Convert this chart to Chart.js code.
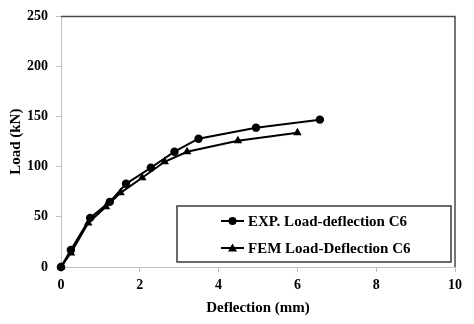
<!DOCTYPE html>
<html>
<head>
<meta charset="utf-8">
<script src="https://cdn.jsdelivr.net/npm/chart.js@4/dist/chart.umd.min.js"></script>
<style>
  html, body { margin: 0; padding: 0; background: #fff; }
  #wrap { width: 474px; height: 324px; }
</style>
</head>
<body>
<div id="wrap"><canvas id="c" width="474" height="324"></canvas></div>
<script>
/* ── Data ── */
const expDeflection = [0, 0.25, 0.74, 1.24, 1.65, 2.28, 2.88, 3.49, 4.95, 6.57];
const expLoad       = [0, 17, 49, 65, 83, 99, 115, 128, 139, 147];
const femDeflection = [0, 0.25, 0.69, 1.14, 1.51, 2.06, 2.63, 3.20, 4.49, 6.00];
const femLoad       = [0, 14, 44, 60, 74, 89, 105, 115, 126, 134];

const seriesLabels = ['EXP. Load-deflection C6', 'FEM Load-Deflection C6'];
const xTicks = [0, 2, 4, 6, 8, 10];
const yTicks = [0, 50, 100, 150, 200, 250];

const toPoints = (xs, ys) => xs.map((x, i) => ({ x, y: ys[i] }));

const SERIF = '"Liberation Serif", "Times New Roman", serif';
const tickFont = { family: SERIF, size: 14, weight: 'bold' };

/* ── Top/right frame + boxed legend inside the plot ── */
const frameAndLegend = {
    id: 'frameAndLegend',
    afterDraw(chart) {
        const { ctx, chartArea: a } = chart;
        ctx.save();
        // dark top and right border
        ctx.strokeStyle = '#4a4a4a';
        ctx.lineWidth = 1.5;
        ctx.beginPath();
        ctx.moveTo(a.left, a.top);
        ctx.lineTo(a.right, a.top);
        ctx.lineTo(a.right, a.bottom);
        ctx.stroke();

        // legend box
        const box = { x: 177, y: 206, w: 274, h: 56 };
        ctx.fillStyle = '#fff';
        ctx.fillRect(box.x, box.y, box.w, box.h);
        ctx.strokeStyle = '#3a3a3a';
        ctx.lineWidth = 1.5;
        ctx.strokeRect(box.x, box.y, box.w, box.h);

        ctx.font = 'bold 15px ' + SERIF;
        ctx.textBaseline = 'middle';
        chart.data.datasets.forEach((ds, i) => {
            const cy = 221 + i * 27;
            ctx.strokeStyle = '#000';
            ctx.lineWidth = 2;
            ctx.beginPath();
            ctx.moveTo(221, cy);
            ctx.lineTo(244, cy);
            ctx.stroke();
            ctx.fillStyle = '#000';
            ctx.beginPath();
            if (ds.pointStyle === 'triangle') {
                ctx.moveTo(232.5, cy - 4.5);
                ctx.lineTo(237, cy + 3.5);
                ctx.lineTo(228, cy + 3.5);
                ctx.closePath();
            } else {
                ctx.arc(232.5, cy, 4, 0, Math.PI * 2);
            }
            ctx.fill();
            ctx.fillText(ds.label, 248, cy + 1);
        });
        ctx.restore();
    }
};

new Chart(document.getElementById('c'), {
    type: 'scatter',
    data: {
        datasets: [
            {
                label: seriesLabels[0],
                data: toPoints(expDeflection, expLoad),
                showLine: true,
                clip: false,
                borderColor: '#000',
                backgroundColor: '#000',
                borderWidth: 2,
                pointStyle: 'circle',
                pointRadius: 4.2,
                pointBorderWidth: 0
            },
            {
                label: seriesLabels[1],
                data: toPoints(femDeflection, femLoad),
                showLine: true,
                clip: false,
                borderColor: '#000',
                backgroundColor: '#000',
                borderWidth: 2,
                pointStyle: 'triangle',
                pointRadius: 5,
                pointBorderWidth: 0
            }
        ]
    },
    options: {
        responsive: false,
        animation: false,
        layout: { padding: { top: 13, right: 19, left: 0, bottom: 0 } },
        plugins: {
            legend: { display: false },
            tooltip: { enabled: false }
        },
        scales: {
            x: {
                type: 'linear',
                min: 0,
                max: 10,
                afterBuildTicks: s => { s.ticks = xTicks.map(v => ({ value: v })); },
                afterFit: s => { s.height = 57; },
                border: { color: '#c0c0c0', width: 1 },
                grid: { drawOnChartArea: false, tickLength: 5, color: '#c0c0c0' },
                ticks: { color: '#000', font: tickFont, padding: 5, maxRotation: 0 },
                title: {
                    display: true,
                    text: 'Deflection (mm)',
                    color: '#000',
                    font: { family: SERIF, size: 15, weight: 'bold' },
                    padding: { top: 0, bottom: 7 }
                }
            },
            y: {
                type: 'linear',
                min: 0,
                max: 250,
                afterBuildTicks: s => { s.ticks = yTicks.map(v => ({ value: v })); },
                afterFit: s => { s.width = 61; },
                border: { color: '#c0c0c0', width: 1 },
                grid: { drawOnChartArea: false, tickLength: 5, color: '#c0c0c0' },
                ticks: { color: '#000', font: tickFont, padding: 8 },
                title: {
                    display: true,
                    text: 'Load (kN)',
                    color: '#000',
                    font: { family: SERIF, size: 15, weight: 'bold' },
                    padding: { top: 7, bottom: 0 }
                }
            }
        }
    },
    plugins: [frameAndLegend]
});
</script>
</body>
</html>
